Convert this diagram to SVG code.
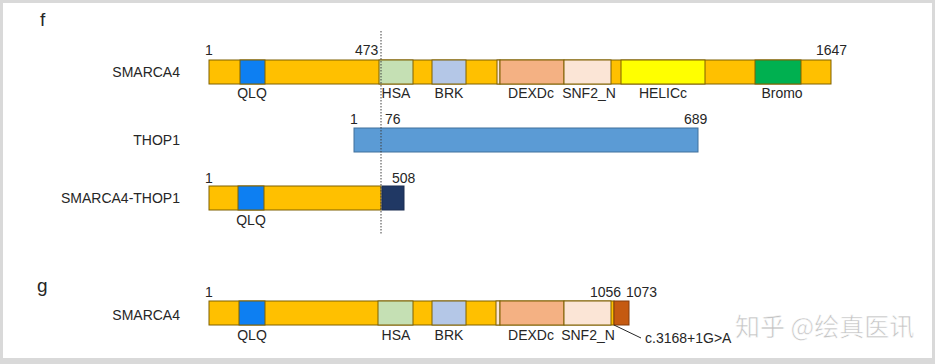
<svg xmlns="http://www.w3.org/2000/svg" width="935" height="364" viewBox="0 0 935 364">
<style>
text{font-family:"Liberation Sans",Arial,sans-serif;fill:#262626}
.lbl{font-size:14px}
.num{font-size:14px}
.name{font-size:14px;text-anchor:end}
.mid{text-anchor:middle}
.panel{font-size:19px}
.seg{stroke:#7f6000;stroke-width:1}
.or{fill:#ffc000}
.qlq{fill:#0d7ff2}
.hsa{fill:#c5e0b4}
.brk{fill:#b4c7e7}
.dex{fill:#f4b183}
.snf{fill:#fbe5d6}
.hel{fill:#ffff00}
.bro{fill:#00b050}
.wm{font-family:"Noto Sans CJK SC","Noto Sans",sans-serif;font-size:25px;fill:#c4c4c4;stroke:#ffffff;stroke-width:0.6}
</style>
<rect x="0" y="0" width="935" height="364" fill="#d9d9d9"/>
<rect x="3" y="3" width="929" height="355" fill="#ffffff"/>
<text class="panel" x="40" y="26">f</text>
<text class="panel" x="37" y="292">g</text>

<g id="smarca4-f">
<text class="name" x="180" y="77">SMARCA4</text>
<rect class="seg or" x="209" y="60" width="622" height="24"/>
<rect class="seg qlq" x="240" y="60" width="25" height="24"/>
<rect class="seg hsa" x="379" y="60" width="34" height="24"/>
<rect class="seg brk" x="432" y="60" width="34" height="24"/>
<rect class="seg snf" x="497" y="60" width="3" height="24"/>
<rect class="seg dex" x="500" y="60" width="64" height="24"/>
<rect class="seg snf" x="564" y="60" width="47" height="24"/>
<rect class="seg hel" x="621" y="60" width="84" height="24"/>
<rect class="seg bro" x="755" y="60" width="46" height="24"/>
<text class="num" x="205" y="55">1</text>
<text class="num" x="355" y="55">473</text>
<text class="num" x="816" y="55">1647</text>
<text class="lbl mid" x="252" y="98">QLQ</text>
<text class="lbl mid" x="396" y="98">HSA</text>
<text class="lbl mid" x="449" y="98">BRK</text>
<text class="lbl mid" x="531" y="98">DEXDc</text>
<text class="lbl mid" x="589" y="98">SNF2_N</text>
<text class="lbl mid" x="663" y="98">HELICc</text>
<text class="lbl mid" x="782" y="98">Bromo</text>
</g>

<g id="thop1">
<text class="name" x="180" y="145">THOP1</text>
<rect x="354" y="128" width="344" height="24" fill="#5b9bd5" stroke="#41719c" stroke-width="1"/>
<text class="num" x="350" y="124">1</text>
<text class="num" x="385" y="124">76</text>
<text class="num" x="684" y="124">689</text>
</g>

<g id="smarca4-thop1">
<text class="name" x="180" y="203">SMARCA4-THOP1</text>
<rect class="seg or" x="209" y="186" width="172" height="24"/>
<rect class="seg qlq" x="238" y="186" width="26" height="24"/>
<rect x="382" y="186" width="22" height="24" fill="#203864" stroke="#1a2c50" stroke-width="1"/>
<text class="num" x="205" y="183">1</text>
<text class="num" x="392" y="183">508</text>
<text class="lbl mid" x="251" y="225">QLQ</text>
</g>

<g id="smarca4-g">
<text class="name" x="180" y="320">SMARCA4</text>
<rect class="seg or" x="209" y="301" width="405" height="24"/>
<rect class="seg qlq" x="239" y="301" width="26" height="24"/>
<rect class="seg hsa" x="378" y="301" width="35" height="24"/>
<rect class="seg brk" x="432" y="301" width="34" height="24"/>
<rect class="seg snf" x="496" y="301" width="4" height="24"/>
<rect class="seg dex" x="500" y="301" width="64" height="24"/>
<rect class="seg snf" x="564" y="301" width="47" height="24"/>
<rect x="614" y="301" width="15" height="24" fill="#c55a11" stroke="#843c0c" stroke-width="1"/>
<text class="num" x="205" y="297">1</text>
<text class="num" x="590" y="297">1056</text>
<text class="num" x="626" y="297">1073</text>
<text class="lbl mid" x="252" y="340">QLQ</text>
<text class="lbl mid" x="396" y="340">HSA</text>
<text class="lbl mid" x="449" y="340">BRK</text>
<text class="lbl mid" x="531" y="340">DEXDc</text>
<text class="lbl mid" x="588" y="340">SNF2_N</text>
<text class="lbl" x="645" y="343">c.3168+1G&gt;A</text>
</g>

<g id="connectors">
<line x1="381" y1="31" x2="381" y2="234" stroke="#404040" stroke-width="1" stroke-dasharray="1.5,1.5"/>
<line x1="614" y1="325" x2="641" y2="338" stroke="#262626" stroke-width="1"/>
</g>

<text class="wm" x="735" y="336">知乎 @绘真医讯</text>
</svg>
